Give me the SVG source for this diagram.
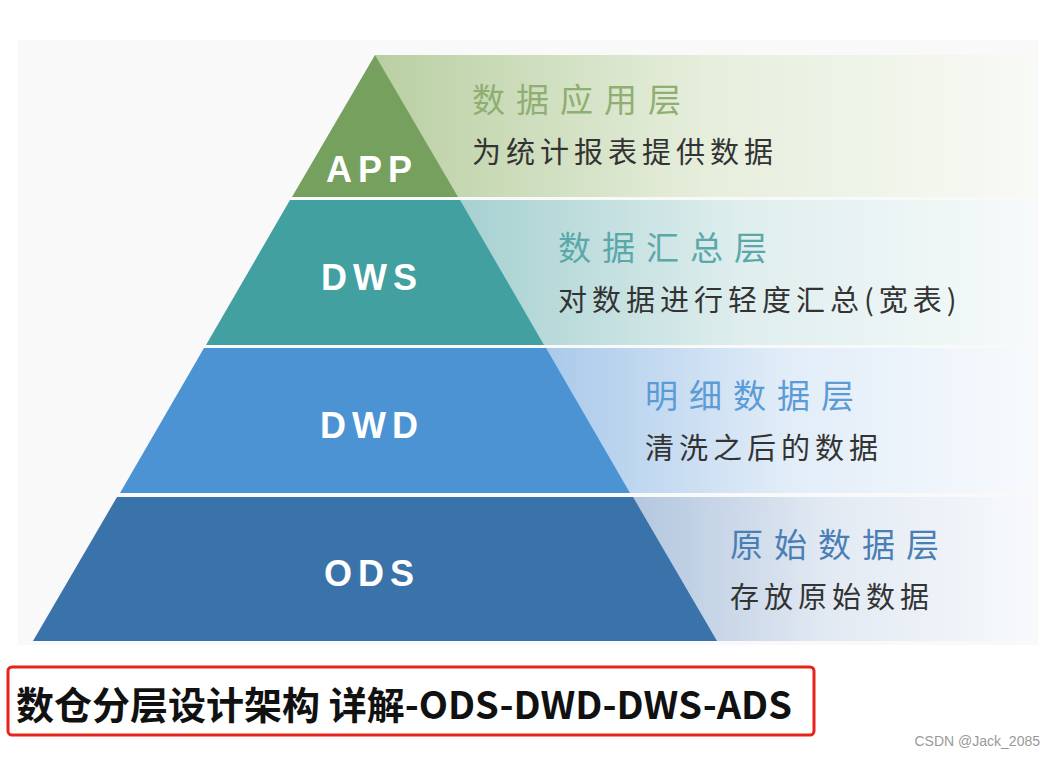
<svg xmlns="http://www.w3.org/2000/svg" width="1054" height="758" viewBox="0 0 1054 758">
<defs>
<linearGradient id="g1" x1="0" x2="1"><stop offset="0" stop-color="#b9cfa2"/><stop offset="0.5" stop-color="#e6eedc"/><stop offset="1" stop-color="#f8faf5"/></linearGradient>
<linearGradient id="g2" x1="0" x2="1"><stop offset="0" stop-color="#a6d0d0"/><stop offset="0.5" stop-color="#e0eeee"/><stop offset="1" stop-color="#f6fafa"/></linearGradient>
<linearGradient id="g3" x1="0" x2="1"><stop offset="0" stop-color="#a9c9ea"/><stop offset="0.5" stop-color="#e2edf8"/><stop offset="1" stop-color="#f7fafd"/></linearGradient>
<linearGradient id="g4" x1="0" x2="1"><stop offset="0" stop-color="#b2c6de"/><stop offset="0.5" stop-color="#e3eaf3"/><stop offset="1" stop-color="#f7f9fc"/></linearGradient>
</defs>
<style>
.lbl{font-family:"Liberation Sans",Arial,sans-serif;font-weight:bold;font-size:36px;fill:#fff;letter-spacing:6px;text-anchor:middle}
.h{font-family:"Noto Sans CJK SC",sans-serif;font-size:33px;letter-spacing:11px}
.d{font-family:"Noto Sans CJK SC",sans-serif;font-size:29px;letter-spacing:5px;fill:#333}
</style>
<rect width="1054" height="758" fill="#fff"/>
<rect x="18" y="40" width="1020" height="605" fill="#f9f9f9"/>
<rect x="375" y="55" width="660" height="142" fill="url(#g1)"/>
<rect x="458" y="200" width="577" height="145" fill="url(#g2)"/>
<rect x="544" y="348" width="491" height="145" fill="url(#g3)"/>
<rect x="630" y="497" width="405" height="144" fill="url(#g4)"/>
<g id="app"><polygon points="375,55 458,197 292,197" fill="#76a05d"/><text class="lbl" x="372" y="182">APP</text></g>
<g id="dws"><polygon points="290,200 460,200 544,345 206,345" fill="#42a0a0"/><text class="lbl" x="372" y="290">DWS</text></g>
<g id="dwd"><polygon points="204,348 546,348 630,493 120,493" fill="#4b93d3"/><text class="lbl" x="372" y="438">DWD</text></g>
<g id="ods"><polygon points="117,497 633,497 717,641 33,641" fill="#3a72aa"/><text class="lbl" x="372" y="586">ODS</text></g>
<g id="t1"><text class="h" x="472" y="112" fill="#8fae72">数据应用层</text><text class="d" x="472" y="163">为统计报表提供数据</text></g>
<g id="t2"><text class="h" x="558" y="260" fill="#5aa8aa">数据汇总层</text><text class="d" x="558" y="311">对数据进行轻度汇总(宽表)</text></g>
<g id="t3"><text class="h" x="645" y="408" fill="#5b9bd6">明细数据层</text><text class="d" x="645" y="459">清洗之后的数据</text></g>
<g id="t4"><text class="h" x="730" y="557" fill="#4a7fb5">原始数据层</text><text class="d" x="730" y="608">存放原始数据</text></g>
<g id="connectors"/>
<g id="title"><rect x="8" y="667" width="806" height="68" rx="4" fill="none" stroke="#e8231c" stroke-width="3"/>
<text x="16" y="719" font-family="'Noto Sans CJK SC',sans-serif" font-weight="bold" font-size="38" fill="#111">数仓分层设计架构 详解-ODS-DWD-DWS-ADS</text></g>
<text x="1040" y="746" text-anchor="end" font-family="'Liberation Sans',sans-serif" font-size="14" fill="#999">CSDN @Jack_2085</text>
</svg>
